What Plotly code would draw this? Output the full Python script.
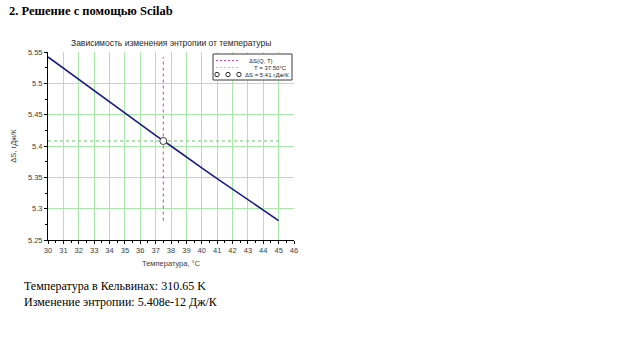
import plotly.graph_objects as go

# ---- data ----
temps_c = [30, 31, 32, 33, 34, 35, 36, 37, 38, 39, 40, 41, 42, 43, 44, 45]
delta_s = [5.542, 5.524, 5.506, 5.488, 5.470, 5.452, 5.434, 5.417,
           5.400, 5.382, 5.365, 5.348, 5.331, 5.314, 5.297, 5.281]
t_point = 37.5
ds_point = 5.408
x_ticks = list(range(30, 47))
y_ticks = [5.25, 5.3, 5.35, 5.4, 5.45, 5.5, 5.55]

header = "2. Решение с помощью Scilab"
chart_title = "Зависимость изменения энтропии от температуры"
x_title = "Температура, °С"
y_title = "ΔS, гДж/К"
legend_labels = ["ΔS(Q, T)", "T = 37.50°C", "ΔS = 5.41 гДж/К"]
result_lines = ["Температура в Кельвинах: 310.65 K",
                "Изменение энтропии: 5.408e-12 Дж/К"]

# ---- layout geometry (page pixels) ----
W, H = 640, 360
L, R, T, B = 48, 294, 52, 240   # plot area


def px(x):
    return (x - L) / (R - L)


def py(y):
    return (B - y) / (B - T)


SANS = "Liberation Sans, Arial, sans-serif"
SERIF = "Liberation Serif, Times New Roman, serif"
GRID = "rgb(170,232,170)"
MAGENTA = "rgb(210,60,170)"
GREEN = "rgb(150,220,150)"
NAVY = "rgb(25,25,135)"
TXT = "rgb(60,60,60)"

fig = go.Figure()

# main curve
fig.add_trace(go.Scatter(x=temps_c, y=delta_s, mode="lines",
                         line=dict(color=NAVY, width=1.6), showlegend=False,
                         hoverinfo="skip"))
# vertical marker line at T
fig.add_trace(go.Scatter(x=[t_point, t_point], y=[min(delta_s), max(delta_s)],
                         mode="lines", line=dict(color=MAGENTA, width=1, dash="3px,3px"),
                         showlegend=False))
# horizontal marker line at dS
fig.add_trace(go.Scatter(x=[min(temps_c), max(temps_c)], y=[ds_point, ds_point],
                         mode="lines", line=dict(color=GREEN, width=1.5, dash="3px,3px"),
                         showlegend=False))
# point
fig.add_trace(go.Scatter(x=[t_point], y=[ds_point], mode="markers",
                         marker=dict(symbol="circle", size=7, color="white",
                                     line=dict(color="rgb(60,60,60)", width=1)),
                         showlegend=False))

shapes = []
annotations = []

# legend box
lx0, lx1, ly0, ly1 = 213, 292, 54, 80
shapes.append(dict(type="rect", xref="paper", yref="paper",
                   x0=px(lx0), x1=px(lx1), y0=py(ly1), y1=py(ly0),
                   line=dict(color="rgb(60,60,60)", width=1), fillcolor="white"))
rows = [60.5, 67.5, 74.5]
shapes.append(dict(type="line", xref="paper", yref="paper",
                   x0=px(216), x1=px(238), y0=py(rows[0]), y1=py(rows[0]),
                   line=dict(color=MAGENTA, width=1, dash="2px,2px")))
shapes.append(dict(type="line", xref="paper", yref="paper",
                   x0=px(216), x1=px(238), y0=py(rows[1]), y1=py(rows[1]),
                   line=dict(color=GREEN, width=1, dash="2px,2px")))
for cx in (217, 228, 239):
    shapes.append(dict(type="circle", xref="paper", yref="paper",
                       x0=px(cx - 2.2), x1=px(cx + 2.2),
                       y0=py(rows[2] + 2.2), y1=py(rows[2] - 2.2),
                       line=dict(color="rgb(40,40,40)", width=1), fillcolor="white"))
for lab, x0, yr in zip(legend_labels, (247, 252, 243), rows):
    annotations.append(dict(xref="paper", yref="paper", x=px(x0), y=py(yr),
                            text=lab, showarrow=False, xanchor="left", yanchor="middle",
                            font=dict(family=SANS, size=6, color="rgb(40,40,40)")))

# header
annotations.append(dict(xref="paper", yref="paper", x=px(7), y=py(11.5),
                        text="<b>" + header + "</b>", showarrow=False,
                        xanchor="left", yanchor="middle",
                        font=dict(family=SERIF, size=12.5, color="black")))
# chart title
annotations.append(dict(xref="paper", yref="paper", x=px(171), y=py(43),
                        text=chart_title, showarrow=False,
                        xanchor="center", yanchor="middle",
                        font=dict(family=SANS, size=8.5, color="rgb(40,40,40)")))
# result text lines
for i, line in enumerate(result_lines):
    annotations.append(dict(xref="paper", yref="paper", x=px(22), y=py(286 + 16 * i),
                            text=line, showarrow=False,
                            xanchor="left", yanchor="middle",
                            font=dict(family=SERIF, size=12, color="black")))

fig.update_layout(
    width=W, height=H,
    margin=dict(l=L, r=W - R, t=T, b=H - B, pad=0),
    paper_bgcolor="white", plot_bgcolor="white",
    shapes=shapes, annotations=annotations,
    font=dict(family=SANS, size=7.5, color=TXT),
    xaxis=dict(range=[30, 46], tickvals=x_ticks, ticktext=[str(v) for v in x_ticks],
               showgrid=True, gridcolor=GRID, gridwidth=1,
               showline=True, linecolor="black", linewidth=1,
               ticks="outside", ticklen=3, tickcolor="black",
               minor=dict(ticks="outside", ticklen=2, dtick=0.5, tickcolor="black", showgrid=False),
               zeroline=False, mirror=False,
               title=dict(text=x_title, font=dict(family=SANS, size=7.5, color=TXT),
                          standoff=6)),
    yaxis=dict(range=[5.25, 5.55], tickvals=y_ticks, ticktext=[("%g" % v) for v in y_ticks],
               showgrid=True, gridcolor=GRID, gridwidth=1,
               showline=True, linecolor="black", linewidth=1,
               ticks="outside", ticklen=3, tickcolor="black",
               minor=dict(ticks="outside", ticklen=2, dtick=0.025, tick0=5.25,
                          tickcolor="black", showgrid=False),
               zeroline=False, mirror=False,
               title=dict(text=y_title, font=dict(family=SANS, size=7.5, color=TXT),
                          standoff=10)),
)

# remove the default 8px page margin so the figure sits at the window's top-left
fig.write_html("out.html",
               config={"displayModeBar": False},
               post_script="document.body.style.margin='0px';"
                           "document.body.style.overflow='hidden';")
